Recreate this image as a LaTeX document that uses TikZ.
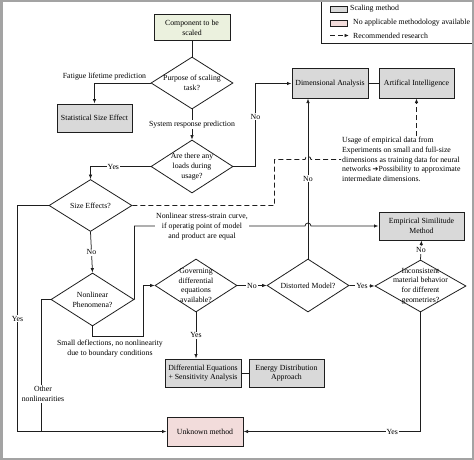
\documentclass[tikz,border=0pt]{standalone}
\usepackage{fontspec}
\setmainfont{Liberation Serif}
\newfontfamily\symfont{DejaVu Sans}
\usetikzlibrary{shapes.geometric,arrows.meta,calc}
\definecolor{greenbox}{HTML}{EBF1DE}
\definecolor{graybox}{HTML}{D9D9D9}
\definecolor{pinkbox}{HTML}{F2DCDB}
\definecolor{framegray}{HTML}{A3A3A3}
\definecolor{ink}{HTML}{1E1E1E}
\begin{document}
\begin{tikzpicture}[x=1pt,y=-1pt,
  font=\fontsize{7.8}{9.7}\selectfont,
  box/.style={draw=ink,line width=1pt,inner sep=0,align=center},
  dia/.style={diamond,draw=ink,line width=0.8pt,inner sep=0},
  txt/.style={align=center,inner sep=0},
  lbl/.style={fill=white,inner sep=1pt,align=center},
  line/.style={draw=ink,line width=0.75pt},
  arr/.style={line,-{Latex[length=4.5pt,width=3.5pt]}},
  dline/.style={line,line width=0.85pt,dash pattern=on 5pt off 3pt}]
\useasboundingbox (0,0) rectangle (474,460);
\fill[white] (0,0) rectangle (474,460);

% legend
\draw[ink,line width=0.6pt] (321,0) rectangle (472,43);
\node[box,fill=graybox,line width=0.6pt,minimum width=17,minimum height=6] (lg1) at (338.5,9) {};
\node[anchor=west,inner sep=0] (lg1t) at (350,9) {Scaling method};
\node[box,fill=pinkbox,line width=0.6pt,minimum width=17,minimum height=6] (lg2) at (338.5,23) {};
\node[anchor=west,inner sep=0] (lg2t) at (353,23) {No applicable methodology available};
\coordinate (lg3a) at (330,35.5);
\coordinate (lg3b) at (349,35.5);
\draw[dline,-{Latex[length=4.5pt,width=3.5pt]}] (lg3a) -- (lg3b);
\node[anchor=west,inner sep=0] (lg3t) at (353,35.5) {Recommended research};

% nodes
\node[box,fill=greenbox,minimum width=76,minimum height=26] (comp) at (192,28) {Component to be\\scaled};
\node[dia,minimum width=82,minimum height=52] (purp) at (192,83) {};
\node[txt] (purpt) at (purp) {Purpose of scaling\\task?};
\node[box,fill=graybox,minimum width=75,minimum height=28] (stat) at (94.5,118) {Statistical Size Effect};
\node[dia,minimum width=82,minimum height=53] (loads) at (192,166.5) {};
\node[txt] (loadst) at (loads) {Are there any\\loads during\\usage?};
\node[dia,minimum width=83,minimum height=52] (size) at (90.5,205.5) {};
\node[txt] (sizet) at (size) {Size Effects?};
\node[dia,minimum width=83,minimum height=53] (nl) at (92.5,299.5) {};
\node[txt] (nlt) at (nl) {Nonlinear\\Phenomena?};
\node[dia,minimum width=82,minimum height=53] (gov) at (196,285.5) {};
\node[txt] (govt) at (gov) {Governing\\differential\\equations\\available?};
\node[dia,minimum width=82,minimum height=53] (dist) at (308,285.5) {};
\node[txt] (distt) at (dist) {Distorted Model?};
\node[dia,minimum width=91,minimum height=52] (inc) at (420.5,286) {};
\node[txt] (inct) at (inc) {Inconsistent\\material behavior\\for different\\geometries?};
\node[box,fill=graybox,minimum width=76,minimum height=29] (da) at (330,83.5) {Dimensional Analysis};
\node[box,fill=graybox,minimum width=75,minimum height=29] (ai) at (416.5,83.5) {Artifical Intelligence};
\node[box,fill=graybox,minimum width=85,minimum height=28] (ems) at (421.5,226) {Empirical Similitude\\Method};
\node[box,fill=graybox,minimum width=76,minimum height=28] (diff) at (203,373) {Differential Equations\\+ Sensitivity Analysis};
\node[box,fill=graybox,minimum width=75,minimum height=28] (energy) at (286.5,373) {Energy Distribution\\Approach};
\node[box,fill=pinkbox,minimum width=76,minimum height=29] (unk) at (205,431.5) {Unknown method};
\node[txt,align=left,anchor=west,inner sep=1pt] (usage) at (341,159.5) {Usage of empirical data from\\Experiments on small and full-size\\dimensions as training data for neural\\networks {\symfont\fontsize{7}{9}\selectfont ➔}Possibility to approximate\\intermediate dimensions.};

% connectors
\draw[line] (comp.south) -- (purp.north);
\draw[arr] (purp.west) -| (stat.north);
\node[txt] (fatl) at (104.5,77) {Fatigue lifetime prediction};
\draw[arr] (purp.south) -- node[lbl]{System response prediction} (loads.north);
\draw[arr] (loads.west) -| node[lbl,pos=0.31]{Yes} (size.north);
\draw[arr] (loads.east) -- ++(22,0) |- node[lbl,pos=0.3]{No} (da.west);
\draw[line] (da.east) -- (ai.west);
\draw[dline,-{Latex[length=4.5pt,width=3.5pt]}] (ai.south |- usage.north) -- (ai.south);
\draw[dline] (size.east) -- (274.5,205.5) -- (274.5,159.5) -- (305,159.5) arc[start angle=180,end angle=360,radius=3] -- (usage.west);
\draw[arr] (size.south) -- node[lbl]{No} (nl.north);
\draw[arr] (size.west) -- (17.5,205.5) |- node[lbl,pos=0.25]{Yes} (unk.west);
\draw[line] (nl.west) -- (41.5,299.5) -- (41.5,431.5);
\node[lbl] (othl) at (43,394) {Other\\nonlinearities};
\draw[arr] (nl.east) -- (nl.east |- ems.west) -- (305,226) arc[start angle=180,end angle=360,radius=3] -- (ems.west);
\node[lbl] (nssl) at (202,226.5) {Nonlinear stress-strain curve,\\if operatig point of model\\and product are equal};
\draw[arr] (nl.south) -- ++(0,10) -| (143.5,285.5) -- (gov.west);
\node[txt] (smdl) at (110,348.5) {Small deflections, no nonlinearity\\due to boundary conditions};
\draw[arr] (gov.south) -- node[lbl]{Yes} (gov.south |- diff.north);
\draw[line] (diff.east) -- (energy.west);
\draw[arr] (gov.east) -- node[lbl]{No} (dist.west);
\draw[arr] (dist.east) -- node[lbl]{Yes} (inc.west);
\draw[arr] (inc.north) -- node[lbl]{No} (ems.south);
\draw[arr] (inc.south) |- node[lbl,pos=0.58]{Yes} (unk.east);
\draw[arr] (dist.north) -- node[lbl,pos=0.5]{No} (dist.north |- da.south);

% frame
\draw[framegray,line width=2.5pt] (1.25,1.25) rectangle (472.75,458.75);
\end{tikzpicture}
\end{document}
